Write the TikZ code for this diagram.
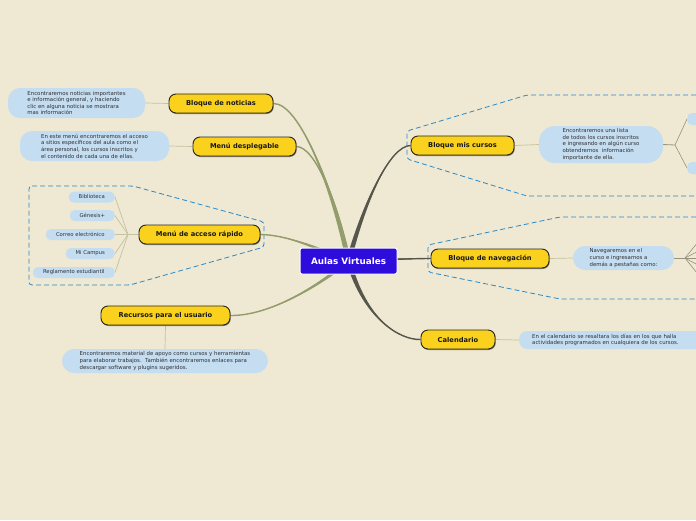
\documentclass[tikz,border=0pt]{standalone}
\usepackage{fontspec}
\setmainfont{DejaVu Sans}
\usetikzlibrary{shadows,backgrounds,calc}

\definecolor{paper}{RGB}{239,232,210}
\definecolor{topicfill}{RGB}{250,210,30}
\definecolor{topicline}{RGB}{40,38,28}
\definecolor{rootfill}{RGB}{46,12,220}
\definecolor{notefill}{RGB}{196,221,240}
\definecolor{notetext}{RGB}{48,48,52}
\definecolor{olive}{RGB}{147,156,107}
\definecolor{darkstem}{RGB}{86,86,76}
\definecolor{stem}{RGB}{196,194,160}
\definecolor{twig}{RGB}{150,146,128}
\definecolor{frame}{RGB}{42,138,200}

% tapered branch: colour, start, control 1, control 2, end, half width
\newcommand{\rootbranch}[6]{%
  \fill[#1] ($(#2)+(#6)$) .. controls ($(#3)+0.6*(#6)$) and (#4) .. (#5)
    .. controls (#4) and ($(#3)-0.6*(#6)$) .. ($(#2)-(#6)$) -- cycle;
  \draw[#1, line width=1.4pt] (#2) .. controls (#3) and (#4) .. (#5);}

\tikzset{
  root/.style={draw=white, line width=1pt, fill=rootfill, rounded corners=2pt,
    text=white, font=\bfseries\fontsize{8.8}{10}\selectfont,
    minimum width=97pt, minimum height=26pt, inner sep=0pt},
  topic/.style={draw=topicline, line width=0.9pt, fill=topicfill, rounded corners=7pt,
    font=\bfseries\fontsize{6.7}{8}\selectfont, text=black!90,
    minimum height=19pt, inner sep=0pt,
    drop shadow={shadow xshift=0.7pt, shadow yshift=-1pt, fill=black, opacity=0.45}},
  note/.style={fill=notefill, rounded corners=12pt, text=notetext, align=left,
    font=\fontsize{5.4}{6.6}\selectfont, inner sep=0pt},
  item/.style={fill=notefill, rounded corners=5pt, text=notetext,
    font=\fontsize{5.3}{6}\selectfont, minimum height=11pt, inner sep=0pt},
  link/.style={stem, line width=0.7pt},
  group/.style={frame, line width=0.8pt, dash pattern=on 5pt off 3pt, rounded corners=3pt},
}

\begin{document}
\begin{tikzpicture}[x=1pt,y=-1pt]
\clip (0,0) rectangle (696,520);

% main ideas
\node[root] (aulas) at (348.5,261) {Aulas Virtuales};
\node[topic, minimum width=104pt] (noticias) at (221,103.5) {Bloque de noticias};
\node[topic, minimum width=103pt] (menu) at (244.5,146.5) {Menú desplegable};
\node[topic, minimum width=121pt] (acceso) at (199.5,234.5) {Menú de acceso rápido};
\node[topic, minimum width=129pt] (recursos) at (165.5,315.5) {Recursos para el usuario};
\node[topic, minimum width=103pt] (cursos) at (462.5,145.5) {Bloque mis cursos};
\node[topic, minimum width=118pt] (navega) at (490,258.5) {Bloque de navegación};
\node[topic, minimum width=74pt] (calendario) at (458,339.5) {Calendario};

% notes
\node[note, minimum width=137pt, minimum height=30pt] (notaNoticias) at (76.5,103)
  {Encontraremos noticias importantes\\e información general, y haciendo\\clic en alguna noticia se mostrara\\mas información};
\node[note, minimum width=149pt, minimum height=30pt] (notaMenu) at (94.5,146)
  {En este menú encontraremos el acceso\\a sitios específicos del aula como el\\área personal, los cursos inscritos y\\el contenido de cada una de ellas.};
\node[note, minimum width=206pt, minimum height=24pt] (notaRecursos) at (165,361)
  {Encontraremos material de apoyo como cursos y herramientas\\para elaborar trabajos.\ \ También encontraremos enlaces para\\descargar software y plugins sugeridos.};
\node[note, minimum width=124pt, minimum height=37pt, rounded corners=16pt] (notaCursos) at (601,144.5)
  {Encontraremos una lista\\de todos los cursos inscritos\\e ingresando en algún curso\\obtendremos\ \ información\\importante de ella.};
\node[note, minimum width=101pt, minimum height=24pt] (notaNavega) at (623.5,258)
  {Navegaremos en el\\curso e ingresamos a\\demás a pestañas como:};
\node[note, text width=170pt, inner xsep=13pt, minimum height=18pt, rounded corners=8pt,
  anchor=west, font=\fontsize{5.4}{6.4}\selectfont] (notaCalendario) at (519,340)
  {En el calendario se resaltara los días en los que halla\\actividades programados en cualquiera de los cursos.};
\node[note, minimum width=30pt, minimum height=12pt, rounded corners=5pt, anchor=west] (cursoA) at (687,119) {};
\node[note, minimum width=30pt, minimum height=12pt, rounded corners=5pt, anchor=west] (cursoB) at (687,168) {};

% quick links
\foreach \nm/\txt/\y/\w in {bib/Biblioteca/197/46pt, gen/Génesis+/215.5/45pt,
    cor/Correo electrónico/234.5/69pt, mic/Mi Campus/253.5/49pt,
    reg/Reglamento estudiantil/272.5/82pt}
  {\node[item, minimum width=\w, anchor=east] (\nm) at (115,\y) {\txt};}

\coordinate (hubA) at (128,234.5);
\coordinate (hubC) at (675,145);
\coordinate (hubN) at (685,258);

\begin{scope}[on background layer]
\fill[paper] (0,0) rectangle (696,520);

% groups
\draw[group] (29,186) -- (133,186) -- (264,222) -- (264,247) -- (130,285) -- (29,285) -- cycle;
\draw[group] (720,95) -- (527,95) -- (407,131) -- (407,159) -- (527,196) -- (720,196);
\draw[group] (720,217) -- (560,217) -- (428,245) -- (428,272) -- (560,299) -- (720,299);

% branches from the root
\rootbranch{olive}{aulas.center}{333,190}{300,103}{noticias.east}{2.6,0}
\rootbranch{olive}{aulas.center}{337,200}{315,147}{menu.east}{2.2,0}
\rootbranch{olive}{aulas.center}{310,245}{285,235}{acceso.east}{0,2.4}
\rootbranch{olive}{aulas.center}{320,285}{270,316}{recursos.east}{0,2.4}
\rootbranch{darkstem}{aulas.center}{365,200}{390,146}{cursos.west}{2.6,0}
\rootbranch{darkstem}{aulas.center}{400,259}{420,258.5}{navega.west}{0,1.6}
\rootbranch{darkstem}{aulas.center}{365,320}{400,340}{calendario.west}{2.6,0}

% notes
\draw[link] (noticias.west) -- (notaNoticias.east);
\draw[link] (menu.west) -- (notaMenu.east);
\draw[link] (recursos.south) -- (notaRecursos.north);
\draw[link] (cursos.east) -- (notaCursos.west);
\draw[link] (navega.east) -- (notaNavega.west);
\draw[link] (calendario.east) -- (notaCalendario.west);
\draw[link] (acceso.west) -- (hubA);
\foreach \nm in {bib,gen,cor,mic,reg}
  {\draw[link] (hubA) -- (\nm.east);}

\draw[twig, line width=0.8pt] (notaCursos.east) -- (hubC);
\draw[twig, line width=0.6pt] (hubC) -- (cursoA.west);
\draw[twig, line width=0.6pt] (hubC) -- (cursoB.west);
\draw[twig, line width=0.8pt] (notaNavega.east) -- (hubN);
\foreach \y in {215,240,258,277,302}
  {\draw[twig, line width=0.6pt] (hubN) -- (720,\y);}
\end{scope}
\end{tikzpicture}
\end{document}
